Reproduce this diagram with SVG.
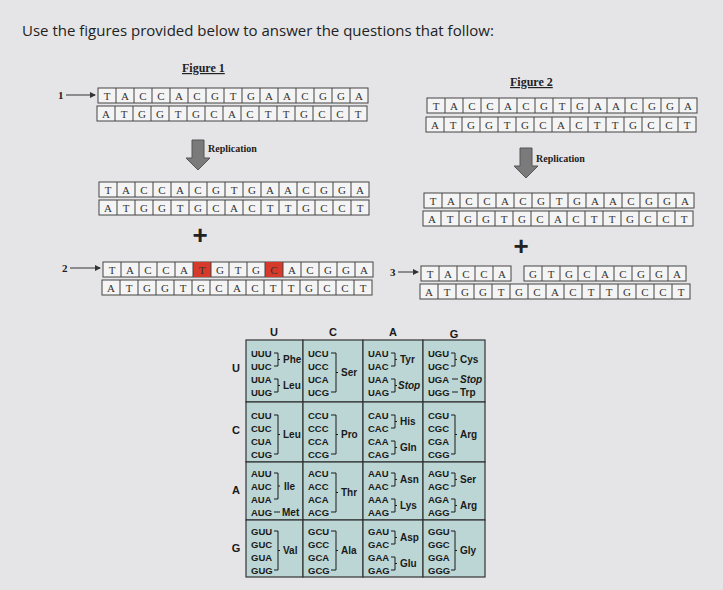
<svg xmlns="http://www.w3.org/2000/svg" xmlns:xlink="http://www.w3.org/1999/xlink" width="723" height="590" viewBox="0 0 723 590">
<style>
.b{fill:#f4f4f4;stroke:#444;stroke-width:1}
.d{fill:none;stroke:#444;stroke-width:1}
.l{font-family:"Liberation Serif",serif;font-size:11px;fill:#333;text-anchor:middle}
.fig{font-family:"Liberation Serif",serif;font-size:12px;font-weight:bold;fill:#222;text-decoration:underline}
.rep{font-family:"Liberation Serif",serif;font-size:10px;font-weight:bold;fill:#222}
.num{font-family:"Liberation Serif",serif;font-size:11px;font-weight:bold;fill:#222}
.c{font-family:"Liberation Sans",sans-serif;font-size:9.5px;font-weight:bold;fill:#1a1a1a}
.a{font-family:"Liberation Sans",sans-serif;font-size:10px;font-weight:bold;fill:#1a1a1a}
.h{font-family:"Liberation Sans",sans-serif;font-size:11px;font-weight:bold;fill:#1a1a1a;text-anchor:middle}
.br{fill:none;stroke:#1a1a1a;stroke-width:1}
.cell{fill:#bcd6d6;stroke:#333;stroke-width:1.2}
.ar{stroke:#333;stroke-width:1;fill:none}
</style>
<defs>
<marker id="m" markerWidth="6" markerHeight="6" refX="5" refY="3" orient="auto"><path d="M0,0L6,3L0,6z" fill="#333"/></marker>
<path id="div" d="M18 0V15M36 0V15M54 0V15M72 0V15M90 0V15M108 0V15M126 0V15M144 0V15M162 0V15M180 0V15M198 0V15M216 0V15M234 0V15M252 0V15"/>
<g id="top"><rect class="b" width="270" height="15"/><use xlink:href="#div" class="d"/><text class="l" y="11.5" x="9 27 45 63 81 99 117 135 153 171 189 207 225 243 261">TACCACGTGAACGGA</text></g>
<g id="bot"><rect class="b" width="270" height="15"/><use xlink:href="#div" class="d"/><text class="l" y="11.5" x="9 27 45 63 81 99 117 135 153 171 189 207 225 243 261">ATGGTGCACTTGCCT</text></g>
<g id="rarrow"><path d="M-6 0H6V18H12L0 30L-12 18H-6Z" fill="#7a7a7a" stroke="#555"/></g>
</defs>
<rect width="723" height="590" fill="#e5e5e7"/>
<text x="22" y="36" font-family="'Open Sans',sans-serif" font-size="15" fill="#222">Use the figures provided below to answer the questions that follow:</text>

<g id="figure1">
<text class="fig" x="182" y="72">Figure 1</text>
<g id="strand1"><text class="num" x="58" y="99">1</text><path class="ar" d="M66 95H95" marker-end="url(#m)"/>
<use xlink:href="#top" x="98" y="88"/><use xlink:href="#bot" x="97" y="106"/></g>
<g id="rep1"><use xlink:href="#rarrow" x="198" y="140"/><text class="rep" x="208" y="152">Replication</text></g>
<g id="copy1"><use xlink:href="#top" x="99" y="182"/><use xlink:href="#bot" x="99" y="200"/></g>
<text x="200" y="244" font-family="'Liberation Sans',sans-serif" font-size="26" font-weight="bold" fill="#222" text-anchor="middle">+</text>
<g id="strand2"><text class="num" x="62" y="272">2</text><path class="ar" d="M70 268H100" marker-end="url(#m)"/>
<g transform="translate(103,262)"><rect class="b" width="270" height="15"/><rect x="90" width="18" height="15" fill="#d63a2a"/><rect x="162" width="18" height="15" fill="#d63a2a"/><use xlink:href="#div" class="d"/><text class="l" y="11.5" x="9 27 45 63 81 99 117 135 153 171 189 207 225 243 261">TACCATGTGCACGGA</text></g>
<use xlink:href="#bot" x="102" y="280"/></g>
</g>

<g id="figure2">
<text class="fig" x="510" y="86">Figure 2</text>
<g id="strand2b"><use xlink:href="#top" x="427" y="98"/><use xlink:href="#bot" x="426" y="117"/></g>
<g id="rep2"><use xlink:href="#rarrow" x="526" y="148"/><text class="rep" x="536" y="162">Replication</text></g>
<g id="copy2"><use xlink:href="#top" x="424" y="193"/><use xlink:href="#bot" x="423" y="211"/></g>
<text x="521" y="255" font-family="'Liberation Sans',sans-serif" font-size="26" font-weight="bold" fill="#222" text-anchor="middle">+</text>
<g id="strand3"><text class="num" x="390" y="276">3</text><path class="ar" d="M398 272H418" marker-end="url(#m)"/>
<g transform="translate(421,266)"><rect class="b" width="90" height="15"/><path class="d" d="M18 0V15M36 0V15M54 0V15M72 0V15"/><text class="l" y="11.5" x="9 27 45 63 81">TACCA</text></g>
<g transform="translate(524,266)"><rect class="b" width="162" height="15"/><path class="d" d="M18 0V15M36 0V15M54 0V15M72 0V15M90 0V15M108 0V15M126 0V15M144 0V15"/><text class="l" y="11.5" x="9 27 45 63 81 99 117 135 153">GTGCACGGA</text></g>
<use xlink:href="#bot" x="420" y="284"/></g>
</g>

<g id="codon-table">
<text class="h" x="274" y="336">U</text><text class="h" x="333" y="336">C</text><text class="h" x="393" y="336">A</text><text class="h" x="454" y="338">G</text>
<text class="h" x="236" y="372">U</text><text class="h" x="236" y="434">C</text><text class="h" x="236" y="494">A</text><text class="h" x="236" y="552">G</text>
<rect class="cell" x="246" y="340" width="57" height="62"/><rect class="cell" x="303" y="340" width="60" height="62"/><rect class="cell" x="363" y="340" width="60" height="62"/><rect class="cell" x="423" y="340" width="62" height="62"/>
<rect class="cell" x="246" y="402" width="57" height="60"/><rect class="cell" x="303" y="402" width="60" height="60"/><rect class="cell" x="363" y="402" width="60" height="60"/><rect class="cell" x="423" y="402" width="62" height="60"/>
<rect class="cell" x="246" y="462" width="57" height="58"/><rect class="cell" x="303" y="462" width="60" height="58"/><rect class="cell" x="363" y="462" width="60" height="58"/><rect class="cell" x="423" y="462" width="62" height="58"/>
<rect class="cell" x="246" y="520" width="57" height="57"/><rect class="cell" x="303" y="520" width="60" height="57"/><rect class="cell" x="363" y="520" width="60" height="57"/><rect class="cell" x="423" y="520" width="62" height="57"/>

<g transform="translate(246,340)"><text class="c" x="5" y="16.5">UUU</text><text class="c" x="5" y="29.5">UUC</text><text class="c" x="5" y="42.5">UUA</text><text class="c" x="5" y="55.5">UUG</text>
<path class="br" d="M28 13H32V26H28M32 19.5H34M28 39H32V52H28M32 45.5H34"/><text class="a" x="37" y="23">Phe</text><text class="a" x="37" y="49">Leu</text></g>
<g transform="translate(303,340)"><text class="c" x="5" y="16.5">UCU</text><text class="c" x="5" y="29.5">UCC</text><text class="c" x="5" y="42.5">UCA</text><text class="c" x="5" y="55.5">UCG</text>
<path class="br" d="M28 13H33V52H28M33 32.5H35"/><text class="a" x="38" y="36">Ser</text></g>
<g transform="translate(363,340)"><text class="c" x="5" y="16.5">UAU</text><text class="c" x="5" y="29.5">UAC</text><text class="c" x="5" y="42.5">UAA</text><text class="c" x="5" y="55.5">UAG</text>
<path class="br" d="M28 13H32V26H28M32 19.5H34M28 39H32V52H28M32 45.5H34"/><text class="a" x="37" y="23">Tyr</text><text class="a" x="35" y="49" font-style="italic">Stop</text></g>
<g transform="translate(423,340)"><text class="c" x="5" y="16.5">UGU</text><text class="c" x="5" y="29.5">UGC</text><text class="c" x="5" y="42.5">UGA</text><text class="c" x="5" y="55.5">UGG</text>
<path class="br" d="M28 13H32V26H28M32 19.5H34M29 39H35M29 52H35"/><text class="a" x="37" y="23">Cys</text><text class="a" x="37" y="42.5" font-style="italic">Stop</text><text class="a" x="37" y="55.5">Trp</text></g>

<g transform="translate(246,402)"><text class="c" x="5" y="16.5">CUU</text><text class="c" x="5" y="29.5">CUC</text><text class="c" x="5" y="42.5">CUA</text><text class="c" x="5" y="55.5">CUG</text>
<path class="br" d="M28 13H32V52H28M32 32.5H34"/><text class="a" x="37" y="36">Leu</text></g>
<g transform="translate(303,402)"><text class="c" x="5" y="16.5">CCU</text><text class="c" x="5" y="29.5">CCC</text><text class="c" x="5" y="42.5">CCA</text><text class="c" x="5" y="55.5">CCG</text>
<path class="br" d="M28 13H33V52H28M33 32.5H35"/><text class="a" x="38" y="36">Pro</text></g>
<g transform="translate(363,402)"><text class="c" x="5" y="16.5">CAU</text><text class="c" x="5" y="29.5">CAC</text><text class="c" x="5" y="42.5">CAA</text><text class="c" x="5" y="55.5">CAG</text>
<path class="br" d="M28 13H32V26H28M32 19.5H34M28 39H32V52H28M32 45.5H34"/><text class="a" x="37" y="23">His</text><text class="a" x="37" y="49">Gln</text></g>
<g transform="translate(423,402)"><text class="c" x="5" y="16.5">CGU</text><text class="c" x="5" y="29.5">CGC</text><text class="c" x="5" y="42.5">CGA</text><text class="c" x="5" y="55.5">CGG</text>
<path class="br" d="M28 13H32V52H28M32 32.5H34"/><text class="a" x="37" y="36">Arg</text></g>

<g transform="translate(246,462)"><text class="c" x="5" y="14.5">AUU</text><text class="c" x="5" y="27.5">AUC</text><text class="c" x="5" y="40.5">AUA</text><text class="c" x="5" y="53.5">AUG</text>
<path class="br" d="M28 11H32V37H28M32 24H34M28 50H34"/><text class="a" x="38" y="27.5">Ile</text><text class="a" x="36" y="53.5">Met</text></g>
<g transform="translate(303,462)"><text class="c" x="5" y="14.5">ACU</text><text class="c" x="5" y="27.5">ACC</text><text class="c" x="5" y="40.5">ACA</text><text class="c" x="5" y="53.5">ACG</text>
<path class="br" d="M28 11H33V50H28M33 30.5H35"/><text class="a" x="38" y="34">Thr</text></g>
<g transform="translate(363,462)"><text class="c" x="5" y="14.5">AAU</text><text class="c" x="5" y="27.5">AAC</text><text class="c" x="5" y="40.5">AAA</text><text class="c" x="5" y="53.5">AAG</text>
<path class="br" d="M28 11H32V24H28M32 17.5H34M28 37H32V50H28M32 43.5H34"/><text class="a" x="37" y="21">Asn</text><text class="a" x="37" y="47">Lys</text></g>
<g transform="translate(423,462)"><text class="c" x="5" y="14.5">AGU</text><text class="c" x="5" y="27.5">AGC</text><text class="c" x="5" y="40.5">AGA</text><text class="c" x="5" y="53.5">AGG</text>
<path class="br" d="M28 11H32V24H28M32 17.5H34M28 37H32V50H28M32 43.5H34"/><text class="a" x="37" y="21">Ser</text><text class="a" x="37" y="47">Arg</text></g>

<g transform="translate(246,520)"><text class="c" x="5" y="14.5">GUU</text><text class="c" x="5" y="27.5">GUC</text><text class="c" x="5" y="40.5">GUA</text><text class="c" x="5" y="53.5">GUG</text>
<path class="br" d="M28 11H32V50H28M32 30.5H34"/><text class="a" x="37" y="34">Val</text></g>
<g transform="translate(303,520)"><text class="c" x="5" y="14.5">GCU</text><text class="c" x="5" y="27.5">GCC</text><text class="c" x="5" y="40.5">GCA</text><text class="c" x="5" y="53.5">GCG</text>
<path class="br" d="M28 11H33V50H28M33 30.5H35"/><text class="a" x="38" y="34">Ala</text></g>
<g transform="translate(363,520)"><text class="c" x="5" y="14.5">GAU</text><text class="c" x="5" y="27.5">GAC</text><text class="c" x="5" y="40.5">GAA</text><text class="c" x="5" y="53.5">GAG</text>
<path class="br" d="M28 11H32V24H28M32 17.5H34M28 37H32V50H28M32 43.5H34"/><text class="a" x="37" y="21">Asp</text><text class="a" x="37" y="47">Glu</text></g>
<g transform="translate(423,520)"><text class="c" x="5" y="14.5">GGU</text><text class="c" x="5" y="27.5">GGC</text><text class="c" x="5" y="40.5">GGA</text><text class="c" x="5" y="53.5">GGG</text>
<path class="br" d="M28 11H32V50H28M32 30.5H34"/><text class="a" x="37" y="34">Gly</text></g>
</g>
</svg>
